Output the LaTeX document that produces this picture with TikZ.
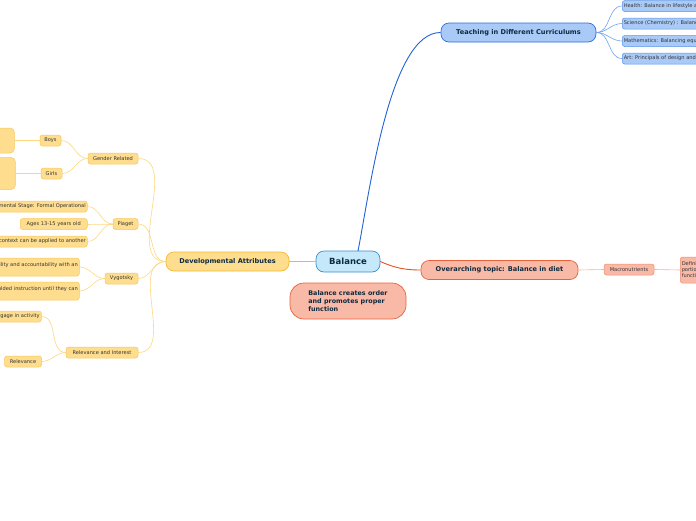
\documentclass[tikz,border=0pt]{standalone}
\usepackage{fontspec}
\setmainfont{DejaVu Sans}
\begin{document}
\begin{tikzpicture}[x=1pt,y=-1pt,
  yb/.style={draw=ybd,fill=yfl,rounded corners=2.5pt,line width=0.5pt,minimum height=11pt,inner sep=1.5pt,font=\fontsize{5.1}{6}\selectfont,text=black!80},
  bb/.style={draw=bbd,fill=bfl,rounded corners=2.5pt,line width=0.5pt,minimum height=11pt,inner sep=1.5pt,font=\fontsize{5.1}{6}\selectfont,text=black!80,anchor=west},
  rb/.style={draw=rbd,fill=rfl,rounded corners=2.5pt,line width=0.5pt,minimum height=11pt,inner sep=1.5pt,font=\fontsize{5.1}{6}\selectfont,text=black!80},
  big/.style={rounded corners=8pt,line width=0.7pt,minimum height=19pt,font=\bfseries\fontsize{6.6}{8}\selectfont,text=txt},
  yc/.style={draw=ycn,line width=0.6pt},
  bc/.style={draw=bcn,line width=0.6pt},
  rc/.style={draw=rcn,line width=0.6pt}]
\definecolor{ybd}{HTML}{F7C85A}\definecolor{yfl}{HTML}{FEDD8E}\definecolor{ycn}{HTML}{FCD77E}
\definecolor{bbd}{HTML}{5A94E8}\definecolor{bfl}{HTML}{A9C9F6}\definecolor{bcn}{HTML}{6FA2EC}
\definecolor{rbd}{HTML}{EE8A6E}\definecolor{rfl}{HTML}{F9B9A7}\definecolor{rcn}{HTML}{F6AE9A}
\definecolor{txt}{HTML}{0E2A3E}
\useasboundingbox (0,0) rectangle (696,520);
\clip (0,0) rectangle (696,520);
% central
\node[big,draw={rgb,255:red,58;green,143;blue,208},fill={rgb,255:red,197;green,232;blue,251},minimum width=64pt,minimum height=21pt,font=\bfseries\fontsize{8.5}{10}\selectfont] (bal) at (348,261.5) {Balance};
\node[big,draw={rgb,255:red,232;green,98;blue,58},fill=rfl,minimum width=116pt,minimum height=36pt,rounded corners=14pt,align=left,font=\bfseries\fontsize{6.4}{8.2}\selectfont] (note) at (348,301) {Balance creates order\\and promotes proper\\function};
% main branches
\node[big,draw={rgb,255:red,45;green,110;blue,216},fill=bfl,minimum width=155pt] (teach) at (518.5,32.5) {Teaching in Different Curriculums};
\node[big,draw={rgb,255:red,232;green,98;blue,58},fill=rfl,minimum width=157pt] (over) at (499.5,270) {Overarching topic: Balance in diet};
\node[big,draw={rgb,255:red,245;green,185;blue,44},fill=yfl,minimum width=123pt] (dev) at (227.5,261.5) {Developmental Attributes};
\draw[line width=0.9pt,draw={rgb,255:red,30;green,100;blue,210}] (358,251) .. controls (370,190) and (390,32) .. (teach.west);
\draw[line width=0.9pt,draw={rgb,255:red,232;green,80;blue,30}] (bal.east) .. controls (395,268) and (405,270) .. (over.west);
\draw[line width=0.9pt,draw={rgb,255:red,245;green,185;blue,44}] (bal.west) -- (dev.east);
% blue children
\node[bb] (h) at (622,6) {Health: Balance in lifestyle and wellbeing};
\node[bb] (s) at (622,23.5) {Science (Chemistry) : Balancing equations};
\node[bb] (m) at (622,41) {Mathematics: Balancing equations};
\node[bb] (a) at (622,58.5) {Art: Principals of design and balance};
\foreach \n in {h,s,m,a} \draw[bc] (teach.east) to[out=0,in=180] (\n.west);
% red children
\node[rb,minimum width=50pt] (mac) at (629,269.5) {Macronutrients};
\node[rb,anchor=west,align=left,minimum height=26pt] (def) at (680,270) {Definition: the right\\portions for proper\\function};
\draw[rc] (over.east) -- (mac.west);
\draw[rc] (mac.east) -- (def.west);
% yellow level 1
\node[yb,minimum width=50pt] (gen) at (113,158.5) {Gender Related};
\node[yb,minimum width=25pt] (pia) at (125.5,224) {Piaget};
\node[yb,minimum width=33pt] (vyg) at (121.5,278.5) {Vygotsky};
\node[yb,minimum width=72pt] (rel) at (102,352.5) {Relevance and Interest};
\foreach \n in {gen,pia,vyg,rel} \draw[yc] (dev.west) to[out=180,in=0] (\n.east);
% gender
\node[yb,minimum width=21pt] (boys) at (50.5,140.5) {Boys};
\node[yb,minimum width=21pt] (girls) at (51.5,173.5) {Girls};
\node[yb,anchor=east,minimum width=40pt,minimum height=25pt,rounded corners=4pt] (bt) at (14.5,140.5) {};
\node[yb,anchor=east,minimum width=40pt,minimum height=32pt,rounded corners=4pt] (gt) at (15.5,173.5) {};
\draw[yc] (gen.west) to[out=180,in=0] (boys.east);
\draw[yc] (gen.west) to[out=180,in=0] (girls.east);
\draw[yc] (boys.west) -- (bt.east);
\draw[yc] (girls.west) -- (gt.east);
% piaget
\node[yb,anchor=east] (p1) at (87.5,206.5) {Developmental Stage: Formal Operational};
\node[yb,anchor=east,minimum width=67pt] (p2) at (87.5,224) {Ages 13-15 years old};
\node[yb,anchor=east] (p3) at (87.5,241.5) {Knowledge from one context can be applied to another};
\foreach \n in {p1,p2,p3} \draw[yc] (pia.west) to[out=180,in=0] (\n.east);
% vygotsky
\node[yb,anchor=east,minimum height=18pt,align=left,text depth=5pt] (v1) at (79.5,267) {Shared responsibility and accountability with an};
\node[yb,anchor=east,minimum height=18pt,align=left,text depth=5pt] (v2) at (79.5,291) {Scaffolded instruction until they can};
\draw[yc] (vyg.west) to[out=180,in=0] (v1.east);
\draw[yc] (vyg.west) to[out=180,in=0] (v2.east);
% relevance
\node[yb,anchor=east] (r1) at (41.5,316.5) {Engage in activity};
\node[yb,minimum width=37pt] (r2) at (23,361.5) {Relevance};
\draw[yc] (rel.west) to[out=180,in=0] (r2.east);
\draw[yc] (rel.west) to[out=180,in=0] (r1.east);
\end{tikzpicture}
\end{document}
